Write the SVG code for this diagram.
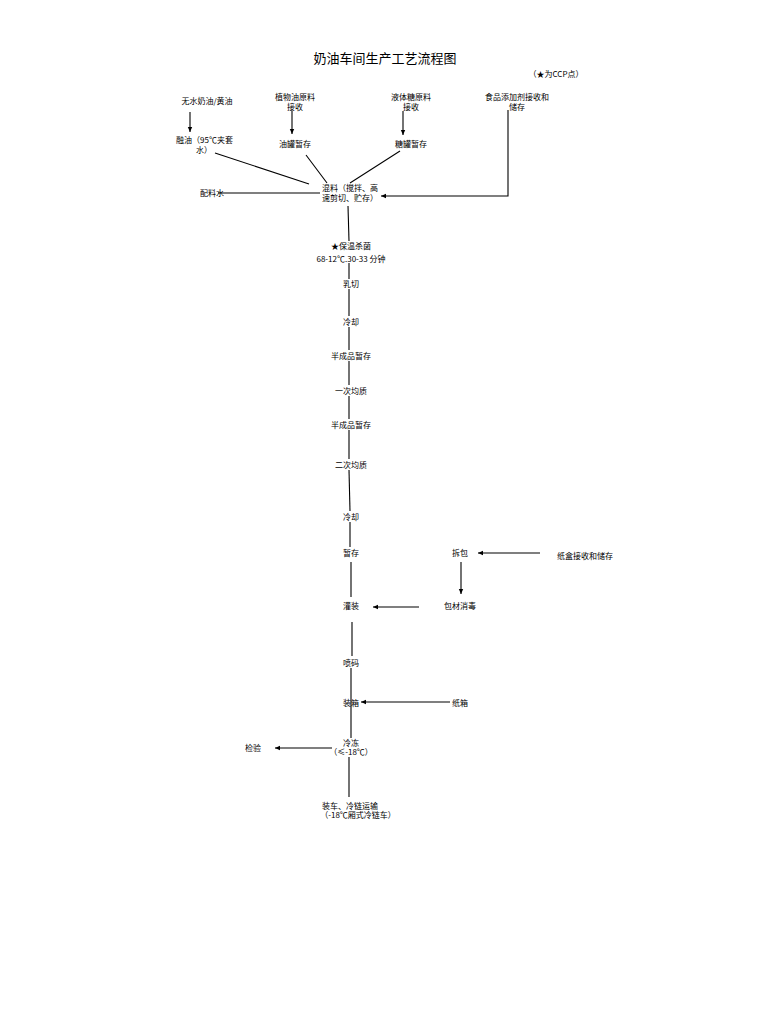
<svg xmlns="http://www.w3.org/2000/svg" width="768" height="1024" viewBox="0 0 768 1024">
<defs><marker id="a" markerWidth="6" markerHeight="6" refX="5" refY="3" orient="auto" markerUnits="userSpaceOnUse"><path d="M0,0.8 L5,3 L0,5.2z" fill="#000"/></marker></defs>
<style>text{font-family:"Noto Sans CJK SC","Liberation Sans",sans-serif;font-size:8px;fill:#000;text-anchor:middle}.t{font-size:13px}.l{text-anchor:start}line,polyline{stroke:#000;stroke-width:1.1;fill:none}.ar{marker-end:url(#a)}</style>
<rect width="768" height="1024" fill="#fff"/>
<text class="t" x="385" y="63">奶油车间生产工艺流程图</text>
<text x="556" y="77">（★为CCP点）</text>
<g id="connectors">
<line class="ar" x1="190" y1="112" x2="190" y2="132"/>
<line class="ar" x1="292" y1="111" x2="292" y2="134"/>
<line class="ar" x1="403" y1="111" x2="403" y2="135"/>
<polyline class="ar" points="508,110 508,196 381,196"/>
<line x1="215" y1="153" x2="309" y2="184"/>
<line x1="306" y1="155" x2="327" y2="183"/>
<line x1="400" y1="151" x2="350" y2="183"/>
<line x1="218" y1="193" x2="320" y2="193"/>
<line x1="348" y1="206" x2="349" y2="241"/>
<line x1="349" y1="263" x2="349" y2="279"/>
<line x1="349" y1="289" x2="349" y2="316"/>
<line x1="349" y1="327" x2="349" y2="350"/>
<line x1="349" y1="361" x2="349" y2="385"/>
<line x1="349" y1="396" x2="349" y2="419"/>
<line x1="349" y1="430" x2="349" y2="459"/>
<line x1="349" y1="470" x2="350" y2="511"/>
<line x1="350" y1="522" x2="350" y2="547"/>
<line x1="351" y1="562" x2="351" y2="597"/>
<line x1="352" y1="622" x2="352" y2="656"/>
<line x1="351" y1="668" x2="351" y2="738"/>
<line x1="349" y1="757" x2="349" y2="797"/>
<line class="ar" x1="540" y1="553" x2="478" y2="553"/>
<line class="ar" x1="461" y1="562" x2="461" y2="594"/>
<line class="ar" x1="419" y1="607" x2="373" y2="607"/>
<line class="ar" x1="450" y1="702" x2="361" y2="702"/>
<line class="ar" x1="332" y1="748" x2="275" y2="748"/>
</g>
<g id="n1"><text x="207" y="104">无水奶油/黄油</text></g>
<g id="n2"><text x="295" y="100">植物油原料</text><text x="295" y="110">接收</text></g>
<g id="n3"><text x="411" y="100">液体糖原料</text><text x="411" y="110">接收</text></g>
<g id="n4"><text x="517" y="100">食品添加剂接收和</text><text x="517" y="110">储存</text></g>
<g id="n5"><text class="l" x="176" y="143">融油（95℃夹套</text><text class="l" x="196" y="153">水）</text></g>
<g id="n6"><text x="295" y="147">油罐暂存</text></g>
<g id="n7"><text x="411" y="147">糖罐暂存</text></g>
<g id="n8"><text class="l" x="322" y="191">混料（搅拌、高</text><text class="l" x="322" y="201">速剪切、贮存）</text></g>
<g id="n9"><text x="212" y="196">配料水</text></g>
<g id="n10"><text x="351" y="249">★保温杀菌</text><text x="351" y="262">68-12℃.30-33 分钟</text></g>
<g id="n11"><text x="351" y="287">乳切</text></g>
<g id="n12"><text x="351" y="325">冷却</text></g>
<g id="n13"><text x="351" y="359">半成品暂存</text></g>
<g id="n14"><text x="351" y="394">一次均质</text></g>
<g id="n15"><text x="351" y="428">半成品暂存</text></g>
<g id="n16"><text x="351" y="468">二次均质</text></g>
<g id="n17"><text x="351" y="520">冷却</text></g>
<g id="n18"><text x="351" y="556">暂存</text></g>
<g id="n19"><text x="460" y="556">拆包</text></g>
<g id="n20"><text x="585" y="559">纸盒接收和储存</text></g>
<g id="n21"><text x="351" y="609">灌装</text></g>
<g id="n22"><text x="460" y="609">包材消毒</text></g>
<g id="n23"><text x="351" y="666">喷码</text></g>
<g id="n24"><text x="351" y="706">装箱</text></g>
<g id="n25"><text x="460" y="706">纸箱</text></g>
<g id="n26"><text x="351" y="746">冷冻</text><text x="351" y="755">（≤-18℃）</text></g>
<g id="n27"><text x="253" y="751">检验</text></g>
<g id="n28"><text x="350" y="809">装车、冷链运输</text><text x="358" y="818">（-18℃厢式冷链车）</text></g>
</svg>
